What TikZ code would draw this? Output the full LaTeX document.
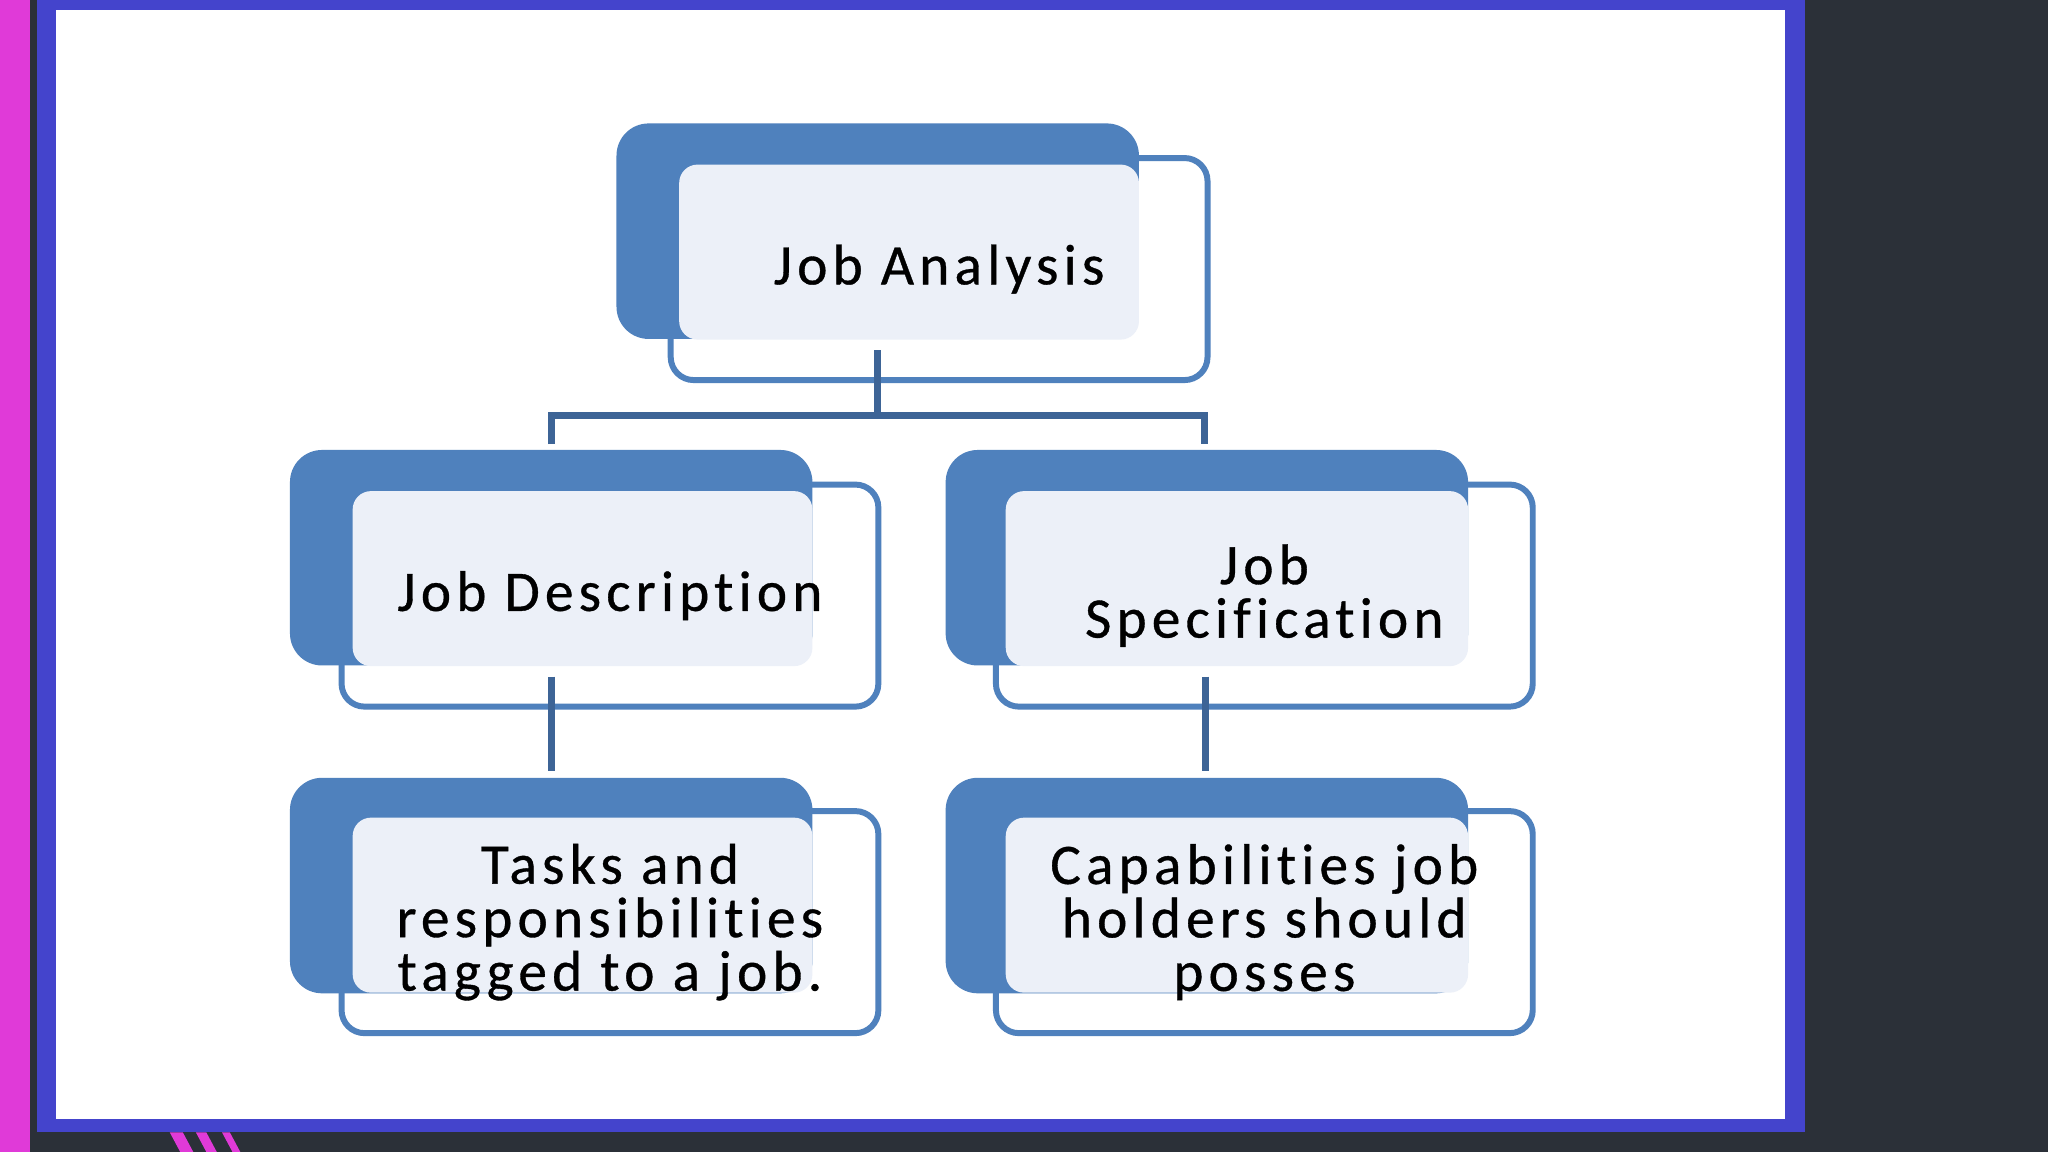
\documentclass[tikz,border=0pt]{standalone}
\usepackage{fontspec}
\setmainfont{Carlito}[LetterSpace=9,Ligatures=NoCommon,FakeBold=0.6]
\definecolor{bgdark}{HTML}{2B3038}
\definecolor{mag}{HTML}{E03AD8}
\definecolor{frameblue}{HTML}{4444CC}
\definecolor{boxblue}{HTML}{4F81BD}
\definecolor{lightfill}{HTML}{ECF0F8}
\definecolor{linkblue}{HTML}{3D6496}
\tikzset{
  backbox/.style={fill=boxblue, rounded corners=14pt, minimum width=400*0.02cm, minimum height=165*0.02cm, inner sep=0},
  frontbox/.style={draw=boxblue, line width=2.6pt, rounded corners=10pt, minimum width=411*0.02cm, minimum height=170*0.02cm, align=center, font=\fontsize{25}{23.3}\selectfont, inner sep=0},
  lightbox/.style={fill=lightfill, rounded corners=8pt},
  link/.style={draw=linkblue, line width=3pt}
}
\begin{document}
\begin{tikzpicture}[x=0.02cm,y=-0.02cm]
\useasboundingbox (0,0) rectangle (1568,882);
\fill[bgdark] (0,0) rectangle (1568,882);
\fill[mag] (0,0) rectangle (23,882);
\fill[frameblue] (28,0) rectangle (1382,867);
\fill[white] (43,8) rectangle (1367,857);
\fill[mag] (130,867) -- (140,867) -- (148,882) -- (138,882) -- cycle;
\fill[mag] (150,867) -- (158,867) -- (166,882) -- (158,882) -- cycle;
\fill[mag] (170,867) -- (176,867) -- (184,882) -- (178,882) -- cycle;
% connectors
\coordinate (bar) at (672,318);
\coordinate (barL) at (422,318);
\coordinate (barR) at (922,318);
\coordinate (dL) at (422,340);
\coordinate (dR) at (922,340);
% back boxes
\node[backbox] (ta) at (672,177) {};
\node[backbox] (ml) at (422,427) {};
\node[backbox] (mr) at (924,427) {};
\node[backbox] (bl) at (422,678) {};
\node[backbox] (br) at (924,678) {};
% light overlays
\fill[lightbox] (520,126) rectangle (872,260);
\fill[lightbox] (270,376) rectangle (622,510);
\fill[lightbox] (770,376) rectangle (1124,510);
\fill[lightbox] (270,626) rectangle (622,760);
\fill[lightbox] (770,626) rectangle (1124,760);
% front boxes
\node[frontbox] (fa) at (719,206) {Job Analysis};
\node[frontbox] (fml) at (467,456) {Job Description};
\node[frontbox] (fmr) at (968,456) {Job\\Specification};
\node[frontbox] (fbl) at (467,706) {Tasks and\\responsibilities\\tagged to a job.};
\node[frontbox] (fbr) at (968,706) {Capabilities job\\holders should\\posses};
\draw[link] (672,268) -- (bar);
\draw[link] (dL) -- (barL) -- (barR) -- (dR);
\draw[link] (422,518) -- (422,590);
\draw[link] (923,518) -- (923,590);
\end{tikzpicture}
\end{document}
